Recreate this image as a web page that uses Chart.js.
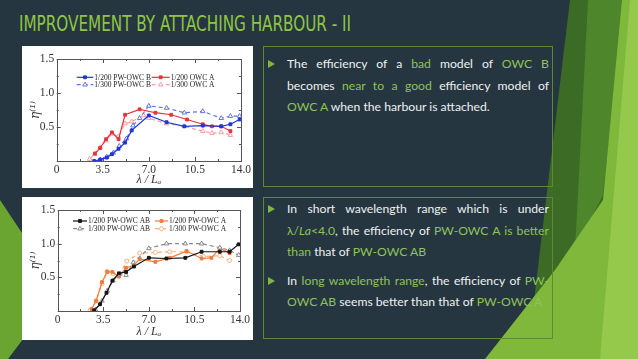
<!DOCTYPE html>
<html><head><meta charset="utf-8">
<script src="https://cdn.jsdelivr.net/npm/chart.js@4.4.1/dist/chart.umd.min.js"></script>
<style>
html,body{margin:0;padding:0;}
body{width:638px;height:359px;overflow:hidden;background:#263640;position:relative;font-family:Lato,"Open Sans",sans-serif;}
#bg{position:absolute;left:0;top:0;}
#title{position:absolute;left:19px;top:9px;color:#8fc545;font-family:"Liberation Sans Narrow","DejaVu Sans Condensed",sans-serif;font-size:21px;line-height:30px;white-space:nowrap;transform-origin:0 0;}
.box{position:absolute;background:#fff;}
.box canvas{position:absolute;left:0;top:0;}
.panel{position:absolute;border:1.5px solid #5b8c33;box-sizing:border-box;}
.ln{position:absolute;left:287px;width:262px;color:#eef1f1;font-size:12.2px;line-height:16px;height:16px;white-space:nowrap;}
.g{color:#8ec25a;}
.bul{position:absolute;left:268px;width:0;height:0;border-top:4px solid transparent;border-bottom:4px solid transparent;border-left:7px solid #7fb640;}
</style></head>
<body>
<svg id="bg" width="638" height="359">
  <polygon points="570,0 638,0 638,359 527,359" fill="#3b6b25"/>
  <polygon points="588,0 624,0 603,195 575,250" fill="#4d862b"/>
  <polygon points="622,0 638,0 638,359 485,359 555,270 603,200" fill="#7fb83a"/>
  <polygon points="630,0 638,0 638,359 600,359" fill="#95c94c"/>
  <polygon points="0,200 60,290 8,359 0,359" fill="#6aa532"/>
</svg>
<div id="title">IMPROVEMENT BY ATTACHING HARBOUR - II</div>

<div class="box" style="left:22px;top:46px;width:231px;height:142px;"><canvas id="c1" width="231" height="142"></canvas></div>
<div class="box" style="left:22px;top:197px;width:231px;height:143px;"><canvas id="c2" width="231" height="143"></canvas></div>

<div class="panel" style="left:263px;top:46px;width:290px;height:141px;"></div>
<div class="panel" style="left:263px;top:197px;width:290px;height:142px;"></div>

<div class="bul" style="top:60px"></div>
<div class="ln j" style="top:56px"><span>The efficiency of a <span class="g">bad</span> model of <span class="g">OWC B</span></span></div>
<div class="ln j" style="top:78px"><span>becomes <span class="g">near to a good</span> efficiency model of</span></div>
<div class="ln" style="top:99px"><span><span class="g">OWC A</span> when the harbour is attached.</span></div>

<div class="bul" style="top:205px"></div>
<div class="ln j" style="top:201px"><span>In short wavelength range which is under</span></div>
<div class="ln j" style="top:223px"><span><span class="g">λ/<i>La</i>&lt;4.0</span>, the efficiency of <span class="g">PW-OWC A is better</span></span></div>
<div class="ln" style="top:244px"><span><span class="g">than</span> that of <span class="g">PW-OWC AB</span></span></div>
<div class="bul" style="top:277px"></div>
<div class="ln j" style="top:273px"><span>In <span class="g">long wavelength range</span>, the efficiency of <span class="g">PW-</span></span></div>
<div class="ln" style="top:294px"><span><span class="g">OWC AB</span> seems better than that of <span class="g">PW-OWC A</span></span></div>

<script>
// ---- tick labels ----
const xTickValues = [0, 3.5, 7.0, 10.5, 14.0];
const xTickLabels = ['0', '3.5', '7.0', '10.5', '14.0'];
const yTickValues = [0.5, 1.0, 1.5];
const yTickLabels = ['0.5', '1.0', '1.5'];

// ---- chart 1 ----
const c1Labels = ['1/200 PW-OWC B', '1/300 PW-OWC B', '1/200 OWC A', '1/300 OWC A'];
const b200x = [2.85,3.3,3.8,4.2,4.7,5.2,5.7,7.0,8.35,9.7,11.1,12.5,13.2,13.9];
const b200y = [0.00,0.02,0.05,0.10,0.18,0.27,0.45,0.67,0.57,0.51,0.52,0.51,0.54,0.61];
const b300x = [3.3,3.8,4.3,4.75,5.3,5.8,6.3,7.0,8.35,9.7,11.1,12.5,13.2,13.9];
const b300y = [0.02,0.06,0.12,0.22,0.33,0.52,0.63,0.81,0.78,0.71,0.73,0.63,0.66,0.66];
const a200x = [2.9,3.3,3.75,4.2,4.7,5.2,6.3,7.5,8.7,9.9,11.1,11.8,12.5,13.2];
const a200y = [0.11,0.19,0.32,0.42,0.32,0.68,0.76,0.71,0.68,0.61,0.54,0.51,0.51,0.44];
const a300x = [2.5,2.9,3.3,3.75,4.2,4.7,5.2,5.7,6.6,7.0,8.35,9.7,11.1,11.8,12.5,13.2];
const a300y = [0.03,0.10,0.20,0.30,0.40,0.36,0.55,0.58,0.67,0.63,0.55,0.51,0.44,0.41,0.42,0.38];

// ---- chart 2 ----
const c2Labels = ['1/200 PW-OWC AB', '1/300 PW-OWC AB', '1/200 PW-OWC A', '1/300 PW-OWC A'];
const ab200x = [2.8,3.25,3.75,4.2,4.7,5.25,5.85,7.0,8.35,9.8,11.05,12.45,13.2,13.9];
const ab200y = [0.01,0.10,0.27,0.45,0.56,0.58,0.66,0.79,0.78,0.79,0.88,0.88,0.88,0.99];
const ab300x = [2.9,3.4,3.8,4.25,4.7,5.25,5.8,7.0,8.35,9.8,11.05,12.45,13.2,13.9];
const ab300y = [0.02,0.15,0.30,0.45,0.54,0.53,0.72,0.93,1.00,1.00,1.00,0.94,0.90,0.83];
const pa200x = [2.6,2.95,3.4,3.8,4.2,4.7,5.25,5.85,6.3,7.5,8.6,9.9,11.05,11.8,12.45,13.2];
const pa200y = [0.03,0.15,0.43,0.58,0.58,0.51,0.64,0.68,0.77,0.73,0.79,0.89,0.78,0.79,0.93,0.86];
const pa300x = [2.5,2.95,3.4,3.8,4.25,4.7,5.3,6.3,7.5,8.6,9.9,11.2,12.45,13.2];
const pa300y = [0.01,0.15,0.40,0.59,0.55,0.53,0.74,0.86,0.87,0.88,0.88,0.81,0.82,0.75];

function pts(xs, ys){ return xs.map((x,i)=>({x:x, y:ys[i]})); }

function ds(label, xs, ys, color, dashed, shape, fill){
  return {label, data: pts(xs, ys), borderColor: color, backgroundColor: fill || color,
    borderWidth: 1.2, borderDash: dashed ? [4,3] : [], pointStyle: shape,
    pointRadius: shape==='triangle' ? 2.6 : 2, pointBorderWidth: 1, pointBorderColor: color,
    pointBackgroundColor: fill || color, tension: 0, fill: false};
}

const framePlugin = {
  id: 'frame',
  beforeDatasetsDraw(chart){
    const {ctx, chartArea: a, scales: {x, y}} = chart;
    ctx.save();
    ctx.strokeStyle = '#555'; ctx.lineWidth = 1;
    ctx.strokeRect(Math.round(a.left)+0.5, Math.round(a.top)+0.5, Math.round(a.right-a.left), Math.round(a.bottom-a.top));
    const ln = (x1,y1,x2,y2)=>{ctx.beginPath();ctx.moveTo(x1,y1);ctx.lineTo(x2,y2);ctx.stroke();};
    x.ticks.forEach(t=>{
      const px = Math.round(x.getPixelForValue(t.value))+0.5;
      const L = xTickValues.includes(t.value) ? 4 : 2;
      ln(px, a.bottom, px, a.bottom-L); ln(px, a.top, px, a.top+L);
    });
    y.ticks.forEach(t=>{
      const py = Math.round(y.getPixelForValue(t.value))+0.5;
      const L = yTickValues.includes(t.value) ? 4 : 2;
      ln(a.left, py, a.left+L, py); ln(a.right, py, a.right-L, py);
    });
    ctx.restore();
  },
  afterDraw(chart){
    const lg = chart.options.plugins.inLegend;
    const ctx = chart.ctx;
    ctx.save();
    ctx.font = '7.5px "Liberation Serif", serif';
    ctx.textBaseline = 'middle';
    chart.data.datasets.forEach((d,i)=>{
      const p = lg.pos[i];
      ctx.strokeStyle = d.borderColor; ctx.lineWidth = 1.2;
      ctx.setLineDash(d.borderDash);
      ctx.beginPath(); ctx.moveTo(p.x, p.y); ctx.lineTo(p.x+p.w, p.y); ctx.stroke();
      ctx.setLineDash([]);
      ctx.fillStyle = d.pointBackgroundColor; ctx.strokeStyle = d.pointBorderColor; ctx.lineWidth = 1;
      Chart.helpers.drawPoint(ctx, {pointStyle: d.pointStyle, radius: d.pointRadius, borderWidth: 1, rotation: 0}, p.x+p.w/2, p.y);
      ctx.fillStyle = '#222';
      ctx.fillText(d.label, p.x+p.w+1, p.y+0.5);
    });
    ctx.restore();
  }
};

function makeChart(id, datasets, legendPos, xAxisH, yAxisW, padRight){
  const ctx = document.getElementById(id);
  return new Chart(ctx, {
    type: 'line',
    data: { datasets },
    options: {
      responsive: false, animation: false, devicePixelRatio: 1,
      layout: { padding: { top: 13, right: padRight, left: 0, bottom: 0 } },
      plugins: { legend: { display: false }, tooltip: { enabled: false }, inLegend: { pos: legendPos } },
      scales: {
        x: { type: 'linear', min: 0, max: 14,
          grid: { display: false, drawTicks: false }, border: { display: false },
          ticks: { stepSize: 1.75, autoSkip: false, maxRotation: 0, padding: 2, color: '#333',
            font: { family: '"Liberation Serif", serif', size: 11.5 },
            callback: v => { const i = xTickValues.indexOf(v); return i >= 0 ? xTickLabels[i] : ''; } },
          title: { display: true, text: 'λ / Lₐ', color: '#333', padding: { top: 0, bottom: 1 },
            font: { family: '"Liberation Serif", serif', size: 12, style: 'italic' } },
          afterFit: s => { s.height = xAxisH; } },
        y: { type: 'linear', min: 0, max: 1.5,
          grid: { display: false, drawTicks: false }, border: { display: false },
          ticks: { stepSize: 0.25, autoSkip: false, padding: 2.5, color: '#333',
            font: { family: '"Liberation Serif", serif', size: 11.5 },
            callback: v => { const i = yTickValues.indexOf(v); return i >= 0 ? yTickLabels[i] : ''; } },
          title: { display: true, text: 'η⁽¹⁾', color: '#333', padding: { top: 7, bottom: 0 },
            font: { family: '"DejaVu Serif", serif', size: 12, style: 'italic' } },
          afterFit: s => { s.width = yAxisW; } }
      }
    },
    plugins: [framePlugin]
  });
}

makeChart('c1', [
  ds(c1Labels[0], b200x, b200y, '#2035d6', false, 'rect'),
  ds(c1Labels[1], b300x, b300y, '#6474e6', true, 'triangle', '#ffffff'),
  ds(c1Labels[2], a200x, a200y, '#e5343c', false, 'rect'),
  ds(c1Labels[3], a300x, a300y, '#f2a2a2', true, 'triangle', '#ffffff')
], [ {x:54.7,y:31.3,w:16.6}, {x:54.7,y:38.7,w:16.6}, {x:129.7,y:31.3,w:18}, {x:129.7,y:38.7,w:18} ], 27, 34.7, 12);

makeChart('c2', [
  ds(c2Labels[0], ab200x, ab200y, '#151515', false, 'rect'),
  ds(c2Labels[1], ab300x, ab300y, '#8a8a8a', true, 'triangle', '#ffffff'),
  ds(c2Labels[2], pa200x, pa200y, '#f07c3c', false, 'rect'),
  ds(c2Labels[3], pa300x, pa300y, '#f5b27e', true, 'circle', '#ffffff')
], [ {x:51,y:24,w:14}, {x:51,y:31.7,w:14}, {x:133,y:24,w:13}, {x:133,y:31.7,w:13} ], 29, 35.7, 13);

// fit title width
const t = document.getElementById('title');
const w = t.getBoundingClientRect().width;
t.style.transform = 'scaleX(' + (332 / w) + ')';

// justify lines by word-spacing
document.querySelectorAll('.ln.j').forEach(el => {
  const inner = el.firstElementChild;
  const natural = inner.getBoundingClientRect().width;
  const spaces = (el.textContent.match(/ /g) || []).length;
  if (spaces > 0) el.style.wordSpacing = ((262 - natural) / spaces) + 'px';
});
</script>
</body></html>
